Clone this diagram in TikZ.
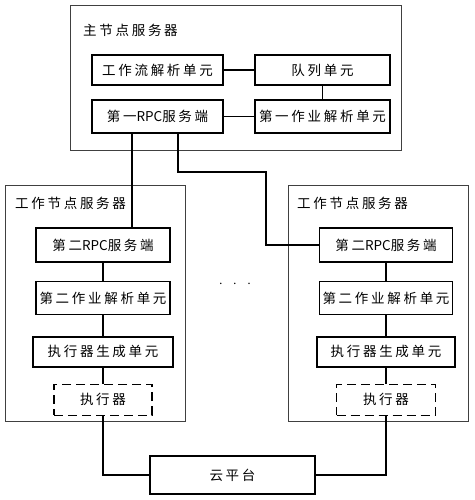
\documentclass[tikz,border=0pt]{standalone}
\usepackage{fontspec}
\usepackage{tikz}
\usetikzlibrary{positioning}
\newfontfamily\cjk[LetterSpace=20]{Noto Sans CJK SC}
\newfontfamily\cjktight{Noto Sans CJK SC}
\newcommand{\rpcword}{{\cjktight RPC}}

\begin{document}
\begin{tikzpicture}[
  x=1pt, y=-1pt,
  font=\cjk\fontsize{13.5}{15}\selectfont,
  server/.style={draw=black!75, line width=0.9pt, inner sep=0pt},
  title/.style={anchor=west, inner sep=0pt},
  box/.style={draw, line width=1.4pt, inner sep=0pt, align=center, minimum height=33pt},
  execbox/.style={box, dash pattern=on 9pt off 5pt, minimum height=31pt},
  link/.style={line width=1.3pt}
]
\useasboundingbox (0,0) rectangle (474,500);

% servers
\node[server, minimum width=331pt, minimum height=145pt] (master) at (235.5,77.5) {};
\node[server, minimum width=180pt, minimum height=236pt] (workerL) at (95,303) {};
\node[server, minimum width=180pt, minimum height=236pt] (workerR) at (378,303) {};
\node[title] (masterT) at (83,30) {主节点服务器};
\node[title] (workerLT) at (15,203) {工作节点服务器};
\node[title] (workerRT) at (297,203) {工作节点服务器};

% master units
\node[box, minimum width=131pt, minimum height=30pt] (flow) at (157.5,70) {工作流解析单元};
\node[box, minimum width=135pt, minimum height=30pt] (queue) at (322.5,70) {队列单元};
\node[box, minimum width=131pt] (rpcA) at (157.5,116.5) {第一\rpcword 服务端};
\node[box, minimum width=135pt] (jobA) at (322.5,116.5) {第一作业解析单元};

% worker units
\node[box, minimum width=134pt, minimum height=34pt] (rpcL) at (103,245) {第二\rpcword 服务端};
\node[box, minimum width=134pt, below=18pt of rpcL] (jobL) {第二作业解析单元};
\node[box, minimum width=140pt, minimum height=30pt, below=21pt of jobL] (genL) {执行器生成单元};
\node[execbox, minimum width=98pt, below=16pt of genL] (execL) {执行器};

\node[box, minimum width=133pt, minimum height=34pt] (rpcR) at (386,245) {第二\rpcword 服务端};
\node[box, minimum width=133pt, below=18pt of rpcR] (jobR) {第二作业解析单元};
\node[box, minimum width=138pt, minimum height=30pt, below=21pt of jobR] (genR) {执行器生成单元};
\node[execbox, minimum width=99pt, below=16pt of genR] (execR) {执行器};

\node[font=\Large] (dots) at (235,284) {$\cdot\hspace{7pt}\cdot\hspace{7pt}\cdot$};
\node[box, minimum width=165pt, minimum height=38pt] (cloud) at (232.5,475) {云平台};

\coordinate (hop) at (266,172);

\draw[link] (flow) -- (queue);
\draw[link] (queue) -- (jobA);
\draw[link] (rpcA) -- (jobA);
\draw[link] ([xshift=-25.5pt]rpcA.south) -- ([xshift=-25.5pt]rpcA.south |- rpcL.north);
\draw[link] ([xshift=20.5pt]rpcA.south) |- (hop) |- (rpcR.west);
\draw[link] (rpcL) -- (jobL);
\draw[link] (jobL) -- (genL);
\draw[link] (genL) -- (execL);
\draw[link] (rpcR) -- (jobR);
\draw[link] (jobR) -- (genR);
\draw[link] (genR) -- (execR);
\draw[link] (execL) |- (cloud);
\draw[link] (execR) |- (cloud);
\end{tikzpicture}
\end{document}
